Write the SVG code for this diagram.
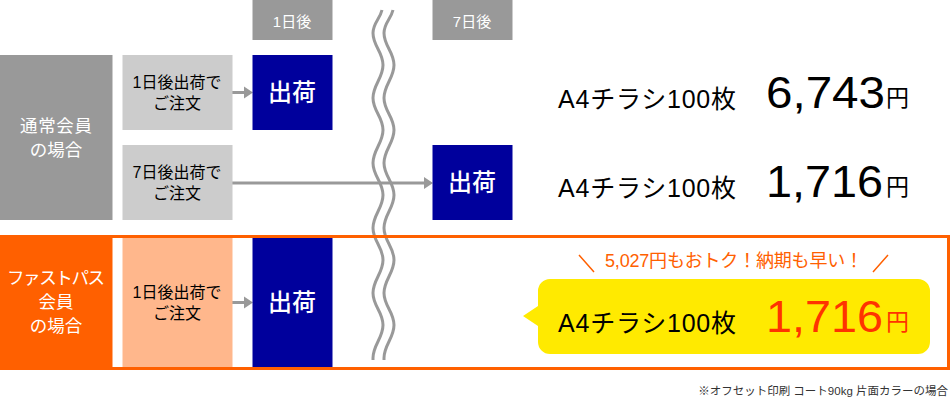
<svg xmlns="http://www.w3.org/2000/svg" width="950" height="400" viewBox="0 0 950 400">
<style>
text{font-family:"Liberation Sans","Noto Sans CJK JP",sans-serif}
.w{fill:#fff}.c{text-anchor:middle}
.lab{font-size:17.5px;fill:#fff;text-anchor:middle}
.ord{font-size:16px;fill:#000;text-anchor:middle}
.sh{font-size:24px;fill:#fff;text-anchor:middle;font-weight:500}
.item{font-size:25px;fill:#000}
.price{font-size:44px}
.yen{font-size:23px}
.conn{fill:none;stroke:#999;stroke-width:3}
.arr{fill:#999}
</style>
<g id="connectors">
<path class="conn" d="M232,92.5H245M232,183H425M232,302.5H245"/>
<path class="arr" d="M244,86.5l9,6l-9,6zM424,177l9,6l-9,6zM244,296.5l9,6l-9,6z"/>
<path id="wave-left" class="conn" d="M382,10C380,19 373,23 373,33C373,46 383,52 383,65C383,78 373,85 373,98C373,111 383,117 383,130C383,143 373,150 373,163C373,176 383,182 383,195C383,208 373,215 373,228C373,241 383,247 383,260C383,273 373,280 373,293C373,306 383,312 383,325C383,338 373,345 373,358V360"/>
<path id="wave-right" class="conn" d="M393,10C391,19 384,23 384,33C384,46 394,52 394,65C394,78 384,85 384,98C384,111 394,117 394,130C394,143 384,150 384,163C384,176 394,182 394,195C394,208 384,215 384,228C384,241 394,247 394,260C394,273 384,280 384,293C384,306 394,312 394,325C394,338 384,345 384,358V360"/>
</g>
<g id="head-1"><rect x="252.5" y="0" width="80" height="40" fill="#999"/><text class="c w" x="292" y="27" font-size="15">1日後</text></g>
<g id="head-7"><rect x="432.5" y="0" width="80" height="40" fill="#999"/><text class="c w" x="472" y="27" font-size="15">7日後</text></g>
<g id="normal"><rect x="0" y="55" width="112.5" height="165" fill="#999"/><text class="lab" x="56" y="132" textLength="72">通常会員</text><text class="lab" x="56" y="156">の場合</text></g>
<g id="order-1"><rect x="122.5" y="55" width="110" height="75" fill="#ccc"/><text class="ord" x="177" y="88">1日後出荷で</text><text class="ord" x="177" y="109">ご注文</text></g>
<g id="ship-1"><rect x="252.5" y="55" width="80" height="75" fill="#00009c"/><text class="sh" x="292" y="101">出荷</text></g>
<g id="order-7"><rect x="122.5" y="145" width="110" height="75" fill="#ccc"/><text class="ord" x="177" y="178">7日後出荷で</text><text class="ord" x="177" y="199">ご注文</text></g>
<g id="ship-7"><rect x="432.5" y="145" width="80" height="75" fill="#00009c"/><text class="sh" x="472" y="191">出荷</text></g>
<g id="fast-frame"><rect x="1.5" y="236.5" width="947" height="132" fill="none" stroke="#ff6000" stroke-width="3"/></g>
<g id="fast"><rect x="0" y="235" width="112.5" height="135" fill="#ff6000"/><text class="lab" x="56" y="284" textLength="98">ファストパス</text><text class="lab" x="56" y="308">会員</text><text class="lab" x="56" y="332">の場合</text></g>
<g id="order-fast"><rect x="122.5" y="238" width="110" height="129" fill="#ffb78c"/><text class="ord" x="177" y="298">1日後出荷で</text><text class="ord" x="177" y="319">ご注文</text></g>
<g id="ship-fast"><rect x="252.5" y="238" width="80" height="129" fill="#00009c"/><text class="sh" x="292" y="311">出荷</text></g>
<g id="price-1"><text class="item" x="558" y="108" textLength="178">A4チラシ100枚</text><text class="price" x="766" y="108" textLength="119" lengthAdjust="spacingAndGlyphs">6,743</text><text class="yen" x="886" y="106">円</text></g>
<g id="price-2"><text class="item" x="558" y="197" textLength="178">A4チラシ100枚</text><text class="price" x="766" y="197" textLength="117" lengthAdjust="spacingAndGlyphs">1,716</text><text class="yen" x="886" y="195">円</text></g>
<g id="callout"><path d="M550,279H918a12,12 0 0 1 12,12V342a12,12 0 0 1-12,12H550a12,12 0 0 1-12-12V326L523,316L538,306V291a12,12 0 0 1 12-12z" fill="#ffea00"/><text class="item" x="558" y="332" textLength="178">A4チラシ100枚</text><text class="price" x="766" y="332" fill="#ff3300" textLength="117" lengthAdjust="spacingAndGlyphs">1,716</text><text class="yen" x="886" y="330" fill="#ff3300">円</text></g>
<g id="saving"><path d="M579,255l15,17M888,255l-15,17" stroke="#ff6000" stroke-width="1.5" fill="none"/><text x="605" y="267" font-size="18" textLength="258" fill="#ff6000">5,027円もおトク！納期も早い！</text></g>
<text id="note" x="948" y="395" text-anchor="end" font-size="11.5" fill="#333">※オフセット印刷 コート90kg 片面カラーの場合</text>
</svg>
